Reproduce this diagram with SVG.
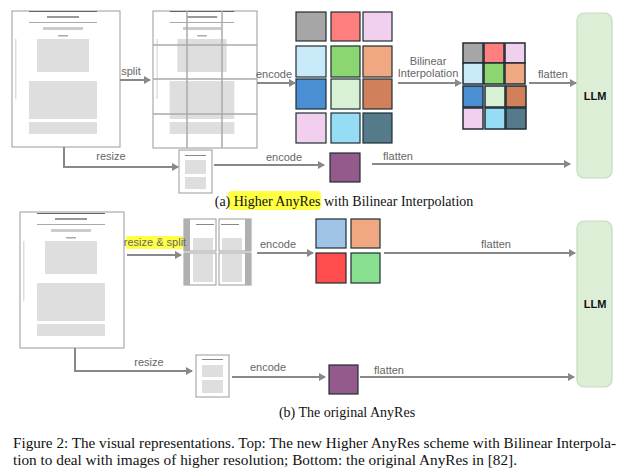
<svg xmlns="http://www.w3.org/2000/svg" width="630" height="471" viewBox="0 0 630 471">
<style>
.lbl{font-family:"Liberation Sans",Arial,sans-serif;font-size:11px;fill:#666}
.cap{font-family:"Liberation Serif","Times New Roman",serif;font-size:14px;fill:#111}
.llm{font-family:"Liberation Sans",Arial,sans-serif;font-size:11px;font-weight:bold;fill:#111}
.doc{fill:#fff;stroke:#999;stroke-width:1}
.txt{fill:#dedede}
.tl{stroke:#888;stroke-width:2;fill:none;marker-end:url(#ah)}
.t{stroke:#1f2d33;stroke-width:1.2}
.g{stroke:#1f2d33;stroke-width:1.5}
.llmbox{fill:#dcefd6;stroke:#c4dcbc;stroke-width:1.2}
</style>
<defs>
<marker id="ah" markerWidth="8" markerHeight="8" refX="6" refY="4" orient="auto" markerUnits="userSpaceOnUse"><path d="M0,0 L7,4 L0,8 z" fill="#888"/></marker>
<g id="doctext">
<rect x="26" y="12" width="68" height="1" fill="#666"/>
<rect x="44" y="17" width="32" height="2" fill="#999"/>
<rect x="26" y="23" width="68" height="1" fill="#aaa"/>
<rect x="40" y="28" width="40" height="3" fill="#ccc"/>
<rect x="55" y="36" width="10" height="1.5" fill="#aaa"/>
<rect x="34" y="40" width="52" height="33" class="txt"/>
<rect x="26" y="82" width="68" height="38" class="txt"/>
<rect x="26" y="123" width="68" height="12" class="txt"/>
<rect x="12" y="40" width="1.5" height="60" fill="#ddd"/>
</g>
</defs>

<g id="doc-top">
<rect x="12" y="11" width="108" height="136" class="doc"/>
<use href="#doctext" transform="translate(3,-1)"/>
</g>
<g id="split-doc">
<rect x="153" y="11" width="104" height="137" class="doc"/>
<use href="#doctext" transform="translate(145,-1) scale(0.95,1)"/>
<g stroke="#aaa" stroke-width="1.5">
<line x1="187" y1="11" x2="187" y2="148"/><line x1="222" y1="11" x2="222" y2="148"/>
<line x1="153" y1="45" x2="257" y2="45"/><line x1="153" y1="79" x2="257" y2="79"/><line x1="153" y1="114" x2="257" y2="114"/>
</g>
</g>
<g id="tiles-top">
<rect x="296" y="12" width="30" height="29" fill="#a6a6a6" class="t"/>
<rect x="331" y="12" width="29" height="29" fill="#ff7f7f" class="t"/>
<rect x="363" y="12" width="29" height="29" fill="#f0d0ee" class="t"/>
<rect x="296" y="46" width="30" height="31" fill="#c8eaf8" class="t"/>
<rect x="331" y="46" width="29" height="31" fill="#8cd672" class="t"/>
<rect x="363" y="46" width="29" height="31" fill="#f0a882" class="t"/>
<rect x="296" y="79" width="30" height="30" fill="#4a8fd4" class="t"/>
<rect x="331" y="79" width="29" height="30" fill="#d8f0d4" class="t"/>
<rect x="363" y="79" width="29" height="30" fill="#d0805a" class="t"/>
<rect x="296" y="113" width="30" height="30" fill="#f0d0ee" class="t"/>
<rect x="331" y="113" width="29" height="30" fill="#96dcf4" class="t"/>
<rect x="363" y="113" width="29" height="30" fill="#557a8a" class="t"/>
</g>
<g id="interp-grid">
<rect x="463" y="43" width="20" height="20" fill="#a6a6a6" class="g"/>
<rect x="484" y="43" width="20" height="20" fill="#ff7f7f" class="g"/>
<rect x="505" y="43" width="20" height="20" fill="#f0d0ee" class="g"/>
<rect x="463" y="63" width="20" height="21" fill="#c8eaf8" class="g"/>
<rect x="484" y="63" width="20" height="21" fill="#8cd672" class="g"/>
<rect x="505" y="63" width="20" height="21" fill="#f0a882" class="g"/>
<rect x="463" y="86" width="20" height="21" fill="#4a8fd4" class="g"/>
<rect x="485" y="86" width="20" height="21" fill="#d8f0d4" class="g"/>
<rect x="506" y="86" width="20" height="21" fill="#d0805a" class="g"/>
<rect x="463" y="108" width="20" height="21" fill="#f0d0ee" class="g"/>
<rect x="485" y="108" width="20" height="21" fill="#96dcf4" class="g"/>
<rect x="506" y="108" width="20" height="21" fill="#557a8a" class="g"/>
</g>
<g id="llm-top">
<rect x="577" y="13" width="35" height="165" rx="7" class="llmbox"/>
<text x="595" y="100" class="llm" text-anchor="middle">LLM</text>
</g>
<g id="small-doc-top">
<rect x="179" y="150" width="33" height="43" class="doc"/>
<rect x="185" y="155" width="21" height="1" fill="#888"/>
<rect x="185" y="160" width="21" height="14" class="txt"/>
<rect x="185" y="177" width="21" height="12" class="txt"/>
</g>
<g id="purple-top"><rect x="330" y="153" width="30" height="29" fill="#955a8c" class="t"/></g>

<g id="connectors-top">
<line x1="120" y1="80" x2="150" y2="80" class="tl"/>
<line x1="257" y1="83" x2="295" y2="83" class="tl"/>
<line x1="398" y1="83" x2="461" y2="83" class="tl"/>
<line x1="529" y1="83" x2="576" y2="83" class="tl"/>
<polyline points="64,147 64,167 178,167" class="tl"/>
<line x1="214" y1="165" x2="324" y2="165" class="tl"/>
<line x1="372" y1="164" x2="570" y2="164" class="tl"/>
</g>
<g id="labels-top">
<text x="131" y="75" class="lbl" text-anchor="middle">split</text>
<text x="274" y="78" class="lbl" text-anchor="middle">encode</text>
<text x="428" y="65" class="lbl" text-anchor="middle">Bilinear</text>
<text x="428" y="77" class="lbl" text-anchor="middle">Interpolation</text>
<text x="553" y="78" class="lbl" text-anchor="middle">flatten</text>
<text x="111" y="160" class="lbl" text-anchor="middle">resize</text>
<text x="284" y="161" class="lbl" text-anchor="middle">encode</text>
<text x="398" y="160" class="lbl" text-anchor="middle">flatten</text>
</g>
<rect x="228" y="191" width="93" height="19" rx="4" fill="#ffff44"/>
<text x="344" y="206" class="cap" text-anchor="middle">(a) Higher AnyRes with Bilinear Interpolation</text>

<g id="doc-bottom">
<rect x="20" y="212" width="104" height="136" class="doc"/>
<use href="#doctext" transform="translate(11,201)"/>
</g>
<g id="split-tiles">
<g class="doc"><rect x="184" y="219" width="32" height="32"/><rect x="219" y="219" width="32" height="32"/><rect x="184" y="253" width="32" height="32"/><rect x="219" y="253" width="32" height="32"/></g>
<g fill="#b0b0b0"><rect x="184" y="219" width="6" height="32"/><rect x="245" y="219" width="6" height="32"/><rect x="184" y="253" width="6" height="32"/><rect x="245" y="253" width="6" height="32"/></g>
<rect x="193" y="238" width="20" height="12" class="txt"/><rect x="222" y="238" width="20" height="12" class="txt"/>
<rect x="193" y="254" width="20" height="28" class="txt"/><rect x="222" y="254" width="20" height="28" class="txt"/>
<rect x="196" y="224" width="18" height="1" fill="#888"/><rect x="221" y="224" width="18" height="1" fill="#888"/>
</g>
<g id="tiles-bottom">
<rect x="316" y="219" width="30" height="29" fill="#a0c4e8" class="t"/>
<rect x="351" y="219" width="29" height="29" fill="#f0a882" class="t"/>
<rect x="316" y="253" width="30" height="30" fill="#ff4c4c" class="t"/>
<rect x="351" y="253" width="29" height="30" fill="#88e090" class="t"/>
</g>
<g id="llm-bottom">
<rect x="577" y="221" width="35" height="166" rx="7" class="llmbox"/>
<text x="595" y="308" class="llm" text-anchor="middle">LLM</text>
</g>
<g id="small-doc-bottom">
<rect x="196" y="355" width="33" height="42" class="doc"/>
<rect x="202" y="359" width="21" height="1" fill="#888"/>
<rect x="202" y="365" width="21" height="12" class="txt"/>
<rect x="202" y="380" width="21" height="13" class="txt"/>
</g>
<g id="purple-bottom"><rect x="329" y="365" width="29" height="29" fill="#955a8c" class="t"/></g>

<g id="connectors-bottom">
<line x1="127" y1="255" x2="181" y2="255" class="tl"/>
<line x1="257" y1="253" x2="313" y2="253" class="tl"/>
<line x1="384" y1="253" x2="575" y2="253" class="tl"/>
<polyline points="75,348 75,371 192,371" class="tl"/>
<line x1="232" y1="377" x2="325" y2="377" class="tl"/>
<line x1="360" y1="377" x2="574" y2="377" class="tl"/>
</g>
<rect x="126" y="236" width="57" height="13" rx="2" fill="#ffff44"/>
<g id="labels-bottom">
<text x="155" y="246" class="lbl" text-anchor="middle">resize &amp; split</text>
<text x="278" y="248" class="lbl" text-anchor="middle">encode</text>
<text x="496" y="248" class="lbl" text-anchor="middle">flatten</text>
<text x="149" y="366" class="lbl" text-anchor="middle">resize</text>
<text x="268" y="371" class="lbl" text-anchor="middle">encode</text>
<text x="389" y="374" class="lbl" text-anchor="middle">flatten</text>
</g>
<text x="347" y="417" class="cap" text-anchor="middle">(b) The original AnyRes</text>
<text x="13" y="448" class="cap" textLength="603" lengthAdjust="spacingAndGlyphs">Figure 2: The visual representations. Top: The new Higher AnyRes scheme with Bilinear Interpola-</text>
<text x="13" y="465" class="cap" textLength="504" lengthAdjust="spacingAndGlyphs">tion to deal with images of higher resolution; Bottom: the original AnyRes in [82].</text>
</svg>
